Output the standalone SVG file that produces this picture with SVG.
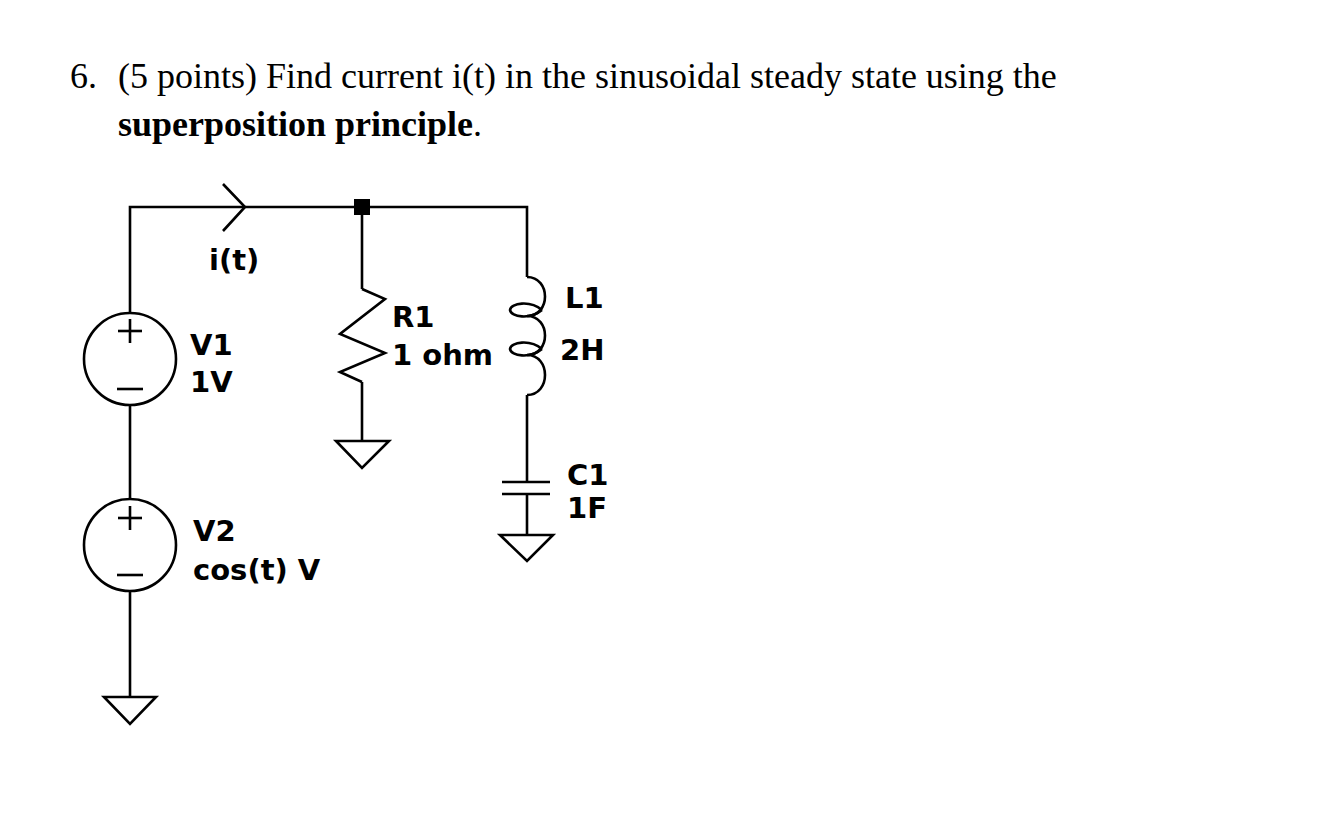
<svg xmlns="http://www.w3.org/2000/svg" width="1332" height="830" viewBox="0 0 1332 830">
<style>
.w{fill:none;stroke:#000;stroke-width:2.6}
.t{font-family:"Liberation Serif",serif;font-size:36px}
.l{font-family:"DejaVu Sans","Liberation Sans",sans-serif;font-weight:bold;font-size:29px}
</style>
<rect width="1332" height="830" fill="#fff"/>
<text class="t" x="70" y="88">6.</text>
<text class="t" x="118" y="88">(5 points) Find current i(t) in the sinusoidal steady state using the</text>
<text class="t" x="118" y="136"><tspan font-weight="bold">superposition principle</tspan>.</text>
<g id="connectors">
<polyline class="w" points="130,313 130,207 527,207 527,277"/>
<line class="w" x1="130" y1="405" x2="130" y2="499"/>
<line class="w" x1="130" y1="592" x2="130" y2="697"/>
<line class="w" x1="362" y1="207" x2="362" y2="289"/>
<line class="w" x1="362" y1="382" x2="362" y2="441"/>
<line class="w" x1="527" y1="395" x2="527" y2="482"/>
<line class="w" x1="527" y1="494" x2="527" y2="535"/>
<polyline class="w" points="223,184 245,207 223,231"/>
</g>
<g id="junction"><rect x="354" y="199" width="16" height="16" fill="#000"/></g>
<g id="iarrow"><text class="l" x="209" y="270">i(t)</text></g>
<g id="V1">
<circle class="w" cx="130" cy="359" r="46"/>
<line class="w" x1="118" y1="331" x2="142" y2="331"/><line class="w" x1="130" y1="319" x2="130" y2="343"/>
<line class="w" x1="117" y1="389" x2="143" y2="389"/>
<text class="l" x="190" y="355">V1</text><text class="l" x="190" y="392">1V</text>
</g>
<g id="V2">
<circle class="w" cx="130" cy="545" r="46"/>
<line class="w" x1="118" y1="518" x2="142" y2="518"/><line class="w" x1="130" y1="506" x2="130" y2="530"/>
<line class="w" x1="117" y1="575" x2="143" y2="575"/>
<text class="l" x="193" y="541">V2</text><text class="l" x="193" y="580">cos(t) V</text>
</g>
<g id="GND1"><polygon class="w" points="104,697 156,697 130,724"/></g>
<g id="R1">
<polyline class="w" points="362,289 385,299 340,334 385,353 340,372 362,382"/>
<text class="l" x="392" y="327">R1</text><text class="l" x="392" y="365">1 ohm</text>
</g>
<g id="GND2"><polygon class="w" points="336,441 389,441 362,468"/></g>
<g id="L1">
<path class="w" d="M527,277 C551,277 551,316 527,316 C551,316 551,355 527,355 C551,355 551,395 527,395"/>
<path class="w" d="M542,310 C530,300 511,303 510,310 C511,317 530,320 542,310"/>
<path class="w" d="M542,349 C530,339 511,342 510,349 C511,356 530,359 542,349"/>
<text class="l" x="565" y="308">L1</text><text class="l" x="560" y="360">2H</text>
</g>
<g id="C1">
<line class="w" x1="502" y1="482" x2="550" y2="482"/>
<line class="w" x1="502" y1="494" x2="550" y2="494"/>
<text class="l" x="567" y="485">C1</text><text class="l" x="567" y="518">1F</text>
</g>
<g id="GND3"><polygon class="w" points="500,535 553,535 527,561"/></g>
</svg>
